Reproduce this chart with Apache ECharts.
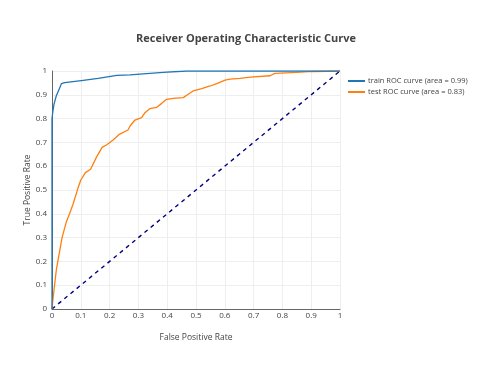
<!DOCTYPE html>
<html><head><meta charset="utf-8">
<script src="https://cdn.jsdelivr.net/npm/echarts@6/dist/echarts.min.js"></script>
<style>html,body{margin:0;padding:0;background:#fff}#c{width:480px;height:368px}</style>
</head><body><div id="c"></div>
<script>
const titleText = "Receiver Operating Characteristic Curve";
const xName = "False Positive Rate";
const yName = "True Positive Rate";
const trainName = "train ROC curve (area = 0.99)";
const testName = "test ROC curve (area = 0.83)";
const ticks = [0,0.1,0.2,0.3,0.4,0.5,0.6,0.7,0.8,0.9,1];

const trainFpr = [0, 0, 0.003, 0.007, 0.015, 0.027, 0.033, 0.044, 0.102, 0.16, 0.225, 0.271, 0.386, 0.468, 1];
const trainTpr = [0, 0.80, 0.83, 0.861, 0.896, 0.93, 0.947, 0.951, 0.96, 0.969, 0.982, 0.984, 0.994, 1, 1];

const testFpr = [0, 0.003, 0.015, 0.035, 0.05, 0.061, 0.073, 0.09, 0.10, 0.116, 0.134, 0.154, 0.174, 0.189, 0.212, 0.235, 0.264, 0.271, 0.288, 0.311, 0.323, 0.34, 0.363, 0.381, 0.398, 0.421, 0.456, 0.473, 0.49, 0.52, 0.549, 0.572, 0.601, 0.618, 0.653, 0.688, 0.757, 0.774, 0.85, 0.906, 1];
const testTpr = [0, 0.038, 0.164, 0.30, 0.367, 0.40, 0.44, 0.507, 0.542, 0.573, 0.587, 0.637, 0.679, 0.689, 0.71, 0.735, 0.752, 0.769, 0.794, 0.804, 0.825, 0.842, 0.847, 0.864, 0.881, 0.885, 0.888, 0.902, 0.916, 0.926, 0.937, 0.947, 0.962, 0.966, 0.969, 0.974, 0.98, 0.99, 0.994, 0.998, 1];

const diagX = [0, 1];
const diagY = [0, 1];

const zip = (a, b) => a.map((v, i) => [v, b[i]]);
const font = "'Open Sans', 'Noto Sans', sans-serif";

const chart = echarts.init(document.getElementById('c'), null, {renderer: 'canvas'});
chart.setOption({
  animation: false,
  backgroundColor: '#fff',
  title: {
    text: titleText, left: 136, top: 33, padding: 0,
    textStyle: {fontFamily: font, fontSize: 11, fontWeight: 'bold', color: '#444'}
  },
  legend: {
    orient: 'vertical', left: 348, top: 77, padding: 0, itemWidth: 17, itemHeight: 2, itemGap: 3,
    data: [{name: trainName, icon: 'rect'}, {name: testName, icon: 'rect'}],
    textStyle: {fontFamily: font, fontSize: 7.5, color: '#444', padding: [0, 0, 0, -2]}
  },
  grid: {left: 52, right: 140, top: 71, bottom: 59},
  xAxis: {
    type: 'value', min: 0, max: 1, interval: 0.1,
    name: xName, nameLocation: 'middle', nameGap: 24, nameMoveOverlap: false,
    nameTextStyle: {fontFamily: font, fontSize: 8.5, color: '#444'},
    axisLine: {show: true, lineStyle: {color: '#666', width: 1}},
    axisTick: {show: false},
    axisLabel: {fontFamily: font, fontSize: 8, color: '#444', margin: 3},
    splitLine: {show: true, lineStyle: {color: '#eee', width: 1}}
  },
  yAxis: {
    type: 'value', min: 0, max: 1, interval: 0.1,
    name: yName, nameLocation: 'middle', nameGap: 20, nameMoveOverlap: false,
    nameTextStyle: {fontFamily: font, fontSize: 8.5, color: '#444'},
    axisLine: {show: true, lineStyle: {color: '#666', width: 1}},
    axisTick: {show: false},
    axisLabel: {fontFamily: font, fontSize: 8, color: '#444', margin: 5},
    splitLine: {show: true, lineStyle: {color: '#eee', width: 1}}
  },
  series: [
    {name: trainName, type: 'line', data: zip(trainFpr, trainTpr), showSymbol: false,
     lineStyle: {color: '#1f77b4', width: 1.3}, itemStyle: {color: '#1f77b4'}, z: 3},
    {name: testName, type: 'line', data: zip(testFpr, testTpr), showSymbol: false,
     lineStyle: {color: '#ff7f0e', width: 1.3}, itemStyle: {color: '#ff7f0e'}, z: 2},
    {name: 'diag', type: 'line', data: zip(diagX, diagY), showSymbol: false,
     lineStyle: {color: '#000080', width: 1.4, type: [4, 4]}, z: 1}
  ]
});
</script></body></html>
